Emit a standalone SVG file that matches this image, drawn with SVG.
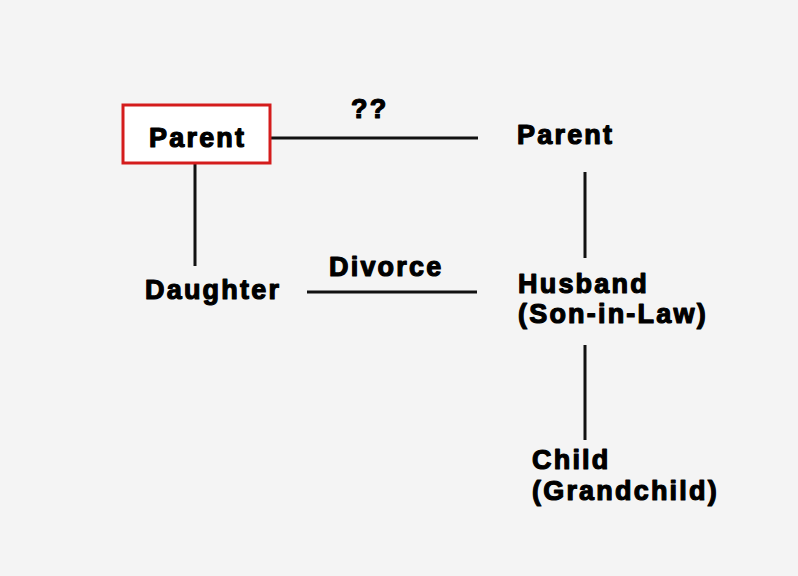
<svg xmlns="http://www.w3.org/2000/svg" width="798" height="576" viewBox="0 0 798 576">
<style>
.t{font-family:"Liberation Sans",Arial,sans-serif;font-weight:bold;font-size:27px;letter-spacing:2.2px;fill:#000;stroke:#000;stroke-width:1.2px;stroke-linejoin:round}
.c{stroke:#111;stroke-width:3;fill:none}
</style>
<rect width="798" height="576" fill="#f4f4f4"/>
<g id="connectors">
<line class="c" x1="271" y1="138" x2="478" y2="138"/>
<line class="c" x1="195" y1="164" x2="195" y2="266"/>
<line class="c" x1="585" y1="172" x2="585" y2="258"/>
<line class="c" x1="307" y1="292" x2="477" y2="292"/>
<line class="c" x1="585" y1="345" x2="585" y2="440"/>
<text class="t" x="351" y="118">??</text>
<text class="t" x="329" y="276">Divorce</text>
</g>
<g id="parent-left">
<rect x="123" y="105" width="147" height="58" fill="#fff" stroke="#d41c1c" stroke-width="3"/>
<text class="t" x="149" y="147">Parent</text>
</g>
<g id="parent-right">
<text class="t" x="517" y="144">Parent</text>
</g>
<g id="daughter">
<text class="t" x="145" y="299">Daughter</text>
</g>
<g id="husband">
<text class="t" x="518" y="293">Husband</text>
<text class="t" x="518" y="323">(Son-in-Law)</text>
</g>
<g id="child">
<text class="t" x="532" y="469">Child</text>
<text class="t" x="532" y="500">(Grandchild)</text>
</g>
</svg>
